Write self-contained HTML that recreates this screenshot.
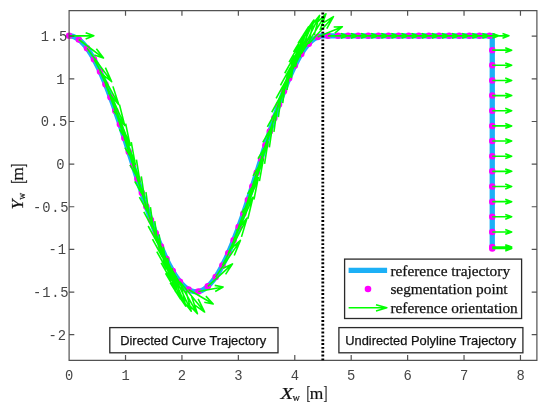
<!DOCTYPE html>
<html><head><meta charset="utf-8"><title>Reference trajectory</title>
<style>html,body{margin:0;padding:0;background:#fff}svg{display:block}.tk{font-family:"Liberation Mono",monospace;font-size:13.8px;letter-spacing:0.79px;fill:#454545}.bx{font-family:"Liberation Sans",sans-serif;font-size:13.33px;fill:#111;stroke:#111;stroke-width:0.25px}.lg{font-family:"Liberation Serif",serif;font-size:15.35px;fill:#111;stroke:#111;stroke-width:0.25px}.lb{font-family:"Liberation Serif",serif;font-size:16px;fill:#111;stroke:#111;stroke-width:0.2px}</style></head><body>
<svg width="550" height="410" viewBox="0 0 550 410">
<rect width="550" height="410" fill="#fff"/>
<g transform="translate(0 -0.35)">
<path d="M69.1 36.19 L70.51 36.27 L71.92 36.5 L73.33 36.89 L74.74 37.43 L76.15 38.13 L77.56 38.98 L78.97 39.99 L80.38 41.14 L81.79 42.45 L83.2 43.9 L84.62 45.5 L86.03 47.25 L87.44 49.14 L88.85 51.16 L90.26 53.33 L91.67 55.63 L93.08 58.06 L94.49 60.62 L95.9 63.31 L97.31 66.12 L98.72 69.05 L100.13 72.1 L101.54 75.25 L102.95 78.52 L104.36 81.89 L105.77 85.36 L107.18 88.93 L108.59 92.58 L110 96.33 L111.41 100.16 L112.83 104.06 L114.24 108.04 L115.65 112.09 L117.06 116.2 L118.47 120.37 L119.88 124.59 L121.29 128.86 L122.7 133.18 L124.11 137.53 L125.52 141.91 L126.93 146.32 L128.34 150.75 L129.75 155.2 L131.16 159.66 L132.57 164.13 L133.98 168.59 L135.39 173.05 L136.8 177.5 L138.21 181.93 L139.62 186.34 L141.04 190.73 L142.45 195.08 L143.86 199.39 L145.27 203.66 L146.68 207.88 L148.09 212.05 L149.5 216.16 L150.91 220.21 L152.32 224.19 L153.73 228.1 L155.14 231.92 L156.55 235.67 L157.96 239.33 L159.37 242.89 L160.78 246.36 L162.19 249.73 L163.6 253 L165.01 256.16 L166.42 259.2 L167.83 262.13 L169.25 264.94 L170.66 267.63 L172.07 270.19 L173.48 272.63 L174.89 274.93 L176.3 277.09 L177.71 279.12 L179.12 281 L180.53 282.75 L181.94 284.35 L183.35 285.8 L184.76 287.11 L186.17 288.27 L187.58 289.27 L188.99 290.12 L190.4 290.82 L191.81 291.36 L193.22 291.75 L194.63 291.99 L196.05 292.07 L197.46 291.99 L198.87 291.75 L200.28 291.36 L201.69 290.82 L203.1 290.12 L204.51 289.27 L205.92 288.27 L207.33 287.11 L208.74 285.8 L210.15 284.35 L211.56 282.75 L212.97 281 L214.38 279.12 L215.79 277.09 L217.2 274.93 L218.61 272.63 L220.02 270.19 L221.43 267.63 L222.84 264.94 L224.25 262.13 L225.67 259.2 L227.08 256.16 L228.49 253 L229.9 249.73 L231.31 246.36 L232.72 242.89 L234.13 239.33 L235.54 235.67 L236.95 231.92 L238.36 228.1 L239.77 224.19 L241.18 220.21 L242.59 216.16 L244 212.05 L245.41 207.88 L246.82 203.66 L248.23 199.39 L249.64 195.08 L251.05 190.73 L252.47 186.34 L253.88 181.93 L255.29 177.5 L256.7 173.05 L258.11 168.59 L259.52 164.13 L260.93 159.66 L262.34 155.2 L263.75 150.75 L265.16 146.32 L266.57 141.91 L267.98 137.53 L269.39 133.18 L270.8 128.86 L272.21 124.59 L273.62 120.37 L275.03 116.2 L276.44 112.09 L277.85 108.04 L279.26 104.06 L280.68 100.16 L282.09 96.33 L283.5 92.58 L284.91 88.93 L286.32 85.36 L287.73 81.89 L289.14 78.52 L290.55 75.25 L291.96 72.1 L293.37 69.05 L294.78 66.12 L296.19 63.31 L297.6 60.62 L299.01 58.06 L300.42 55.63 L301.83 53.33 L303.24 51.16 L304.65 49.14 L306.06 47.25 L307.47 45.5 L308.88 43.9 L310.3 42.45 L311.71 41.14 L313.12 39.99 L314.53 38.98 L315.94 38.13 L317.35 37.43 L318.76 36.89 L320.17 36.5 L321.58 36.27 L322.99 36.19 L492.25 36.19 L492.25 249.42" fill="none" stroke="#1cb0f6" stroke-width="5.3" stroke-linejoin="miter"/>
<g fill="#ff00ff"><circle cx="69.1" cy="36.19" r="3.25"/><circle cx="78.78" cy="39.84" r="3.25"/><circle cx="87.01" cy="48.55" r="3.25"/><circle cx="93.93" cy="59.59" r="3.25"/><circle cx="99.98" cy="71.76" r="3.25"/><circle cx="105.44" cy="84.54" r="3.25"/><circle cx="110.51" cy="97.7" r="3.25"/><circle cx="115.3" cy="111.09" r="3.25"/><circle cx="119.89" cy="124.64" r="3.25"/><circle cx="124.36" cy="138.29" r="3.25"/><circle cx="128.74" cy="152" r="3.25"/><circle cx="133.08" cy="165.73" r="3.25"/><circle cx="137.43" cy="179.46" r="3.25"/><circle cx="141.82" cy="193.16" r="3.25"/><circle cx="146.31" cy="206.79" r="3.25"/><circle cx="150.94" cy="220.31" r="3.25"/><circle cx="155.79" cy="233.66" r="3.25"/><circle cx="160.94" cy="246.74" r="3.25"/><circle cx="166.52" cy="259.41" r="3.25"/><circle cx="172.74" cy="271.37" r="3.25"/><circle cx="179.92" cy="282.02" r="3.25"/><circle cx="188.51" cy="289.85" r="3.25"/><circle cx="198.39" cy="291.85" r="3.25"/><circle cx="207.79" cy="286.7" r="3.25"/><circle cx="215.67" cy="277.27" r="3.25"/><circle cx="222.35" cy="265.9" r="3.25"/><circle cx="228.24" cy="253.55" r="3.25"/><circle cx="233.6" cy="240.66" r="3.25"/><circle cx="238.6" cy="227.44" r="3.25"/><circle cx="243.33" cy="214.01" r="3.25"/><circle cx="247.89" cy="200.43" r="3.25"/><circle cx="252.33" cy="186.77" r="3.25"/><circle cx="256.7" cy="173.05" r="3.25"/><circle cx="261.04" cy="159.31" r="3.25"/><circle cx="265.4" cy="145.58" r="3.25"/><circle cx="269.81" cy="131.9" r="3.25"/><circle cx="274.32" cy="118.29" r="3.25"/><circle cx="279" cy="104.81" r="3.25"/><circle cx="283.91" cy="91.51" r="3.25"/><circle cx="289.14" cy="78.51" r="3.25"/><circle cx="294.85" cy="65.97" r="3.25"/><circle cx="301.26" cy="54.24" r="3.25"/><circle cx="308.74" cy="44.07" r="3.25"/><circle cx="317.69" cy="37.29" r="3.25"/><circle cx="327.9" cy="36.19" r="3.25"/><circle cx="338" cy="36.19" r="3.25"/><circle cx="348.1" cy="36.19" r="3.25"/><circle cx="358.2" cy="36.19" r="3.25"/><circle cx="368.3" cy="36.19" r="3.25"/><circle cx="378.4" cy="36.19" r="3.25"/><circle cx="388.5" cy="36.19" r="3.25"/><circle cx="398.6" cy="36.19" r="3.25"/><circle cx="408.7" cy="36.19" r="3.25"/><circle cx="418.8" cy="36.19" r="3.25"/><circle cx="428.9" cy="36.19" r="3.25"/><circle cx="439" cy="36.19" r="3.25"/><circle cx="449.1" cy="36.19" r="3.25"/><circle cx="459.2" cy="36.19" r="3.25"/><circle cx="469.3" cy="36.19" r="3.25"/><circle cx="479.4" cy="36.19" r="3.25"/><circle cx="489.5" cy="36.19" r="3.25"/><circle cx="492.25" cy="50.5" r="3.25"/><circle cx="492.25" cy="65.65" r="3.25"/><circle cx="492.25" cy="80.8" r="3.25"/><circle cx="492.25" cy="95.95" r="3.25"/><circle cx="492.25" cy="111.1" r="3.25"/><circle cx="492.25" cy="126.25" r="3.25"/><circle cx="492.25" cy="141.4" r="3.25"/><circle cx="492.25" cy="156.55" r="3.25"/><circle cx="492.25" cy="171.7" r="3.25"/><circle cx="492.25" cy="186.85" r="3.25"/><circle cx="492.25" cy="202" r="3.25"/><circle cx="492.25" cy="217.15" r="3.25"/><circle cx="492.25" cy="232.3" r="3.25"/><circle cx="492.25" cy="247.45" r="3.25"/><circle cx="492.25" cy="248.9" r="3.25"/></g>
<path d="M69.1 36.19L93.81 36.19M85.66 33.11L93.81 36.19L85.66 39.27M78.78 39.84L103.49 58.41M96.35 49.2L103.49 58.41L94.33 55.37M87.01 48.55L111.72 82.1M105.4 67.95L111.72 82.1L101.73 74.11M93.93 59.59L118.64 104.7M112.95 86.73L118.64 104.7L108.02 92.89M99.98 71.76L124.69 125.89M119.49 104.95L124.69 125.89L113.58 111.11M105.44 84.54L130.16 145.8M125.65 123.98L130.16 145.8L119.39 129.76M110.51 97.7L135.22 164.57M131.27 142.5L135.22 164.57L124.87 147.91M115.3 111.09L140.01 182.29M136.44 160.08L140.01 182.29L129.95 165.23M119.89 124.64L144.61 199.06M141.3 176.75L144.61 199.06L134.75 181.73M124.36 138.29L149.07 214.92M145.94 192.56L149.07 214.92L139.34 197.41M128.74 152L153.45 229.89M150.41 207.49L153.45 229.89L143.8 212.29M133.08 165.73L157.79 243.97M154.78 221.57L157.79 243.97L148.16 226.35M137.43 179.46L162.14 257.14M159.09 234.76L162.14 257.14L152.48 239.56M141.82 193.16L166.54 269.36M163.37 247.01L166.54 269.36L156.79 251.89M146.31 206.79L171.02 280.56M167.67 258.27L171.02 280.56L161.12 263.28M150.94 220.31L175.66 290.61M172.01 268.42L175.66 290.61L165.53 273.62M155.79 233.66L180.5 299.34M176.44 277.32L180.5 299.34L170.06 282.8M160.94 246.74L185.65 306.48M180.98 284.74L185.65 306.48L174.76 290.62M166.52 259.41L191.23 311.62M185.93 291.31L191.23 311.62L180.23 297.47M172.74 271.37L197.45 314.04M191.63 296.88L197.45 314.04L186.97 303.04M179.92 282.02L204.64 312.41M198.14 299.3L204.64 312.41L194.82 305.46M188.51 289.85L213.23 304.35M205.86 296.48L213.23 304.35L204.28 302.65M198.39 291.85L223.11 287.31M214.7 285.72L223.11 287.31L215.2 291.89M207.79 286.7L232.5 264.27M223.12 268.59L232.5 264.27L225.57 274.76M215.67 277.27L240.38 240.75M230.23 249.72L240.38 240.75L234.22 255.88M222.35 265.9L247.06 218.48M236.32 231.04L247.06 218.48L241.5 237.21M228.24 253.55L252.96 197.6M241.76 212.96L252.96 197.6L247.86 219.12M233.6 240.66L258.32 177.97M247.66 194.18L258.32 177.97L253.96 199.86M238.6 227.44L263.31 159.46M253.03 176.22L263.31 159.46L259.46 181.56M243.33 214.01L268.05 141.96M258.04 159.09L268.05 141.96L264.55 164.2M247.89 200.43L272.6 125.41M262.78 142.79L272.6 125.41L269.35 147.73M252.33 186.77L277.04 109.76M267.34 127.29L277.04 109.76L273.94 132.13M256.7 173.05L281.41 95M271.77 112.6L281.41 95L278.38 117.39M261.04 159.31L285.75 81.12M276.12 98.74L285.75 81.12L282.74 103.52M265.4 145.58L290.11 68.17M280.43 85.73L290.11 68.17L287.03 90.55M269.81 131.9L294.52 56.18M284.74 73.61L294.52 56.18L291.32 78.52M274.32 118.29L299.04 45.24M289.09 62.46L299.04 45.24L295.62 67.51M279 104.81L303.71 35.48M293.52 52.37L303.71 35.48L299.98 57.63M283.91 91.51L308.62 27.09M298.09 43.49L308.62 27.09L304.43 49.06M289.14 78.51L313.85 20.37M302.84 36.03L313.85 20.37L309.01 42.02M294.85 65.97L319.57 15.79M308.67 29.26L319.57 15.79L314.15 35.43M301.26 54.24L325.98 14.17M315.63 24.31L325.98 14.17L320.01 30.47M308.74 44.07L333.45 17.03M323.82 22.87L333.45 17.03L326.77 29.04M317.69 37.29L342.4 27.06M333.69 27.35L342.4 27.06L334.81 33.51M327.9 36.19L347.31 36.19M340.9 33.77L347.31 36.19L340.9 38.61M338 36.19L357.41 36.19M351 33.77L357.41 36.19L351 38.61M348.1 36.19L367.51 36.19M361.1 33.77L367.51 36.19L361.1 38.61M358.2 36.19L377.61 36.19M371.2 33.77L377.61 36.19L371.2 38.61M368.3 36.19L387.71 36.19M381.3 33.77L387.71 36.19L381.3 38.61M378.4 36.19L397.81 36.19M391.4 33.77L397.81 36.19L391.4 38.61M388.5 36.19L407.91 36.19M401.5 33.77L407.91 36.19L401.5 38.61M398.6 36.19L418.01 36.19M411.6 33.77L418.01 36.19L411.6 38.61M408.7 36.19L428.11 36.19M421.7 33.77L428.11 36.19L421.7 38.61M418.8 36.19L438.21 36.19M431.8 33.77L438.21 36.19L431.8 38.61M428.9 36.19L448.31 36.19M441.9 33.77L448.31 36.19L441.9 38.61M439 36.19L458.41 36.19M452 33.77L458.41 36.19L452 38.61M449.1 36.19L468.51 36.19M462.1 33.77L468.51 36.19L462.1 38.61M459.2 36.19L478.61 36.19M472.2 33.77L478.61 36.19L472.2 38.61M469.3 36.19L488.71 36.19M482.3 33.77L488.71 36.19L482.3 38.61M479.4 36.19L498.81 36.19M492.4 33.77L498.81 36.19L492.4 38.61M489.5 36.19L508.91 36.19M502.5 33.77L508.91 36.19L502.5 38.61M492.25 50.5L511.66 50.5M505.25 48.08L511.66 50.5L505.25 52.92M492.25 65.65L511.66 65.65M505.25 63.23L511.66 65.65L505.25 68.07M492.25 80.8L511.66 80.8M505.25 78.38L511.66 80.8L505.25 83.22M492.25 95.95L511.66 95.95M505.25 93.53L511.66 95.95L505.25 98.37M492.25 111.1L511.66 111.1M505.25 108.68L511.66 111.1L505.25 113.52M492.25 126.25L511.66 126.25M505.25 123.83L511.66 126.25L505.25 128.67M492.25 141.4L511.66 141.4M505.25 138.98L511.66 141.4L505.25 143.82M492.25 156.55L511.66 156.55M505.25 154.13L511.66 156.55L505.25 158.97M492.25 171.7L511.66 171.7M505.25 169.28L511.66 171.7L505.25 174.12M492.25 186.85L511.66 186.85M505.25 184.43L511.66 186.85L505.25 189.27M492.25 202L511.66 202M505.25 199.58L511.66 202L505.25 204.42M492.25 217.15L511.66 217.15M505.25 214.73L511.66 217.15L505.25 219.57M492.25 232.3L511.66 232.3M505.25 229.88L511.66 232.3L505.25 234.72M492.25 247.45L511.66 247.45M505.25 245.03L511.66 247.45L505.25 249.87M492.25 248.9L511.66 248.9M505.25 246.48L511.66 248.9L505.25 251.32" fill="none" stroke="#00ff00" stroke-width="1.6" stroke-linejoin="round" stroke-linecap="butt"/>
</g>
<path d="M69.1 10.6H536.9V360.3H69.1ZM69.1 360.3v-5.2M69.1 10.6v5.2M125.52 360.3v-5.2M125.52 10.6v5.2M181.94 360.3v-5.2M181.94 10.6v5.2M238.36 360.3v-5.2M238.36 10.6v5.2M294.78 360.3v-5.2M294.78 10.6v5.2M351.2 360.3v-5.2M351.2 10.6v5.2M407.62 360.3v-5.2M407.62 10.6v5.2M464.04 360.3v-5.2M464.04 10.6v5.2M520.46 360.3v-5.2M520.46 10.6v5.2M69.1 334.71h5.2M536.9 334.71h-5.2M69.1 292.07h5.2M536.9 292.07h-5.2M69.1 249.42h5.2M536.9 249.42h-5.2M69.1 206.77h5.2M536.9 206.77h-5.2M69.1 164.13h5.2M536.9 164.13h-5.2M69.1 121.48h5.2M536.9 121.48h-5.2M69.1 78.83h5.2M536.9 78.83h-5.2M69.1 36.19h5.2M536.9 36.19h-5.2" fill="none" stroke="#525252" stroke-width="1.2"/>
<line x1="322.8" y1="360.35" x2="322.8" y2="10.6" stroke="#000" stroke-width="2.8" stroke-dasharray="1.9 1.944"/>
<text class="tk" x="65.02" y="380.3">0</text><text class="tk" x="121.44" y="380.3">1</text><text class="tk" x="177.86" y="380.3">2</text><text class="tk" x="234.28" y="380.3">3</text><text class="tk" x="290.7" y="380.3">4</text><text class="tk" x="347.12" y="380.3">5</text><text class="tk" x="403.54" y="380.3">6</text><text class="tk" x="459.96" y="380.3">7</text><text class="tk" x="516.38" y="380.3">8</text><text class="tk" x="48.6" y="339.51">-2</text><text class="tk" x="33.1" y="296.87">-1.5</text><text class="tk" x="48.6" y="254.22">-1</text><text class="tk" x="33.1" y="211.57">-0.5</text><text class="tk" x="56.35" y="168.93">0</text><text class="tk" x="40.85" y="126.28">0.5</text><text class="tk" x="56.35" y="83.63">1</text><text class="tk" x="40.85" y="40.99">1.5</text>
<rect x="109.8" y="327.6" width="168.2" height="25.19999999999999" fill="#fff" stroke="#2a2a2a" stroke-width="1.3"/><text class="bx" x="120.2" y="344.7" textLength="146" lengthAdjust="spacingAndGlyphs">Directed Curve Trajectory</text>
<rect x="338.9" y="327.6" width="184.0" height="25.19999999999999" fill="#fff" stroke="#2a2a2a" stroke-width="1.3"/><text class="bx" x="345.2" y="344.7" textLength="171" lengthAdjust="spacingAndGlyphs">Undirected Polyline Trajectory</text>
<rect x="344.6" y="259.1" width="177.0" height="59.39999999999998" fill="#fff" stroke="#2a2a2a" stroke-width="1.3"/><line x1="348.6" y1="270.4" x2="387.1" y2="270.4" stroke="#1cb0f6" stroke-width="5.3"/><circle cx="368" cy="289" r="3.3" fill="#ff00ff"/><path d="M348.6 307.8H386.6M376 304.7L386.8 307.8L376 310.9" fill="none" stroke="#00ff00" stroke-width="1.6" stroke-linejoin="round"/><text class="lg" x="390.4" y="276">reference trajectory</text><text class="lg" x="390.4" y="294">segmentation point</text><text class="lg" x="390.4" y="312.8">reference orientation</text>
<g class="lb"><text transform="translate(280.5 398.8) scale(1.24 1)" font-size="16.5px" font-style="italic">X</text><text transform="translate(292.4 401.2) scale(0.92 1)" font-size="11.2px">w</text><text transform="translate(306.6 399.4) scale(0.6 1)" font-size="19.5px">[</text><text transform="translate(309.7 398.8) scale(1.09 1)" font-size="16px">m</text><text transform="translate(323.4 399.4) scale(0.6 1)" font-size="19.5px">]</text></g>
<g class="lb" transform="translate(23.3 208.4) rotate(-90)"><text transform="translate(-1 0) scale(1.09 1)" font-size="16.5px" font-style="italic">Y</text><text transform="translate(8.7 1.8) scale(0.85 1)" font-size="11.2px">w</text><text transform="translate(25 0.6) scale(0.6 1)" font-size="19.5px">[</text><text transform="translate(27.9 0) scale(1.07 1)" font-size="16px">m</text><text transform="translate(40.9 0.6) scale(0.6 1)" font-size="19.5px">]</text></g>
</svg>
</body></html>
